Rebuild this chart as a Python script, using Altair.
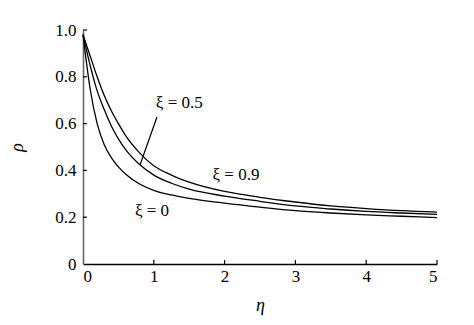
import altair as alt
import pandas as pd

eta = [0, 0.1, 0.2, 0.3, 0.4, 0.5, 0.6, 0.8, 1.0, 1.25, 1.5, 2.0, 2.5, 3.0, 3.5, 4.0, 4.5, 5.0]
rho_xi0 = [0.98, 0.75, 0.60, 0.51, 0.455, 0.415, 0.385, 0.342, 0.315, 0.295, 0.28, 0.26, 0.243, 0.228, 0.218, 0.21, 0.204, 0.198]
rho_xi05 = [0.98, 0.85, 0.74, 0.66, 0.59, 0.535, 0.49, 0.425, 0.38, 0.345, 0.32, 0.29, 0.268, 0.248, 0.235, 0.225, 0.218, 0.212]
rho_xi09 = [0.98, 0.89, 0.80, 0.72, 0.655, 0.60, 0.55, 0.475, 0.42, 0.38, 0.35, 0.31, 0.285, 0.265, 0.248, 0.237, 0.228, 0.222]

label_text = ["ξ = 0.5", "ξ = 0.9", "ξ = 0"]
label_eta = [1.36, 2.16, 0.975]
label_rho = [0.688, 0.38, 0.226]

leader_eta = [1.045, 0.805]
leader_rho = [0.628, 0.423]

x_ticks = [1, 2, 3, 4, 5]
y_ticks = [0.2, 0.4, 0.6, 0.8, 1.0]

rows = []
for name, vals in [("0", rho_xi0), ("0.5", rho_xi05), ("0.9", rho_xi09)]:
    for e, r in zip(eta, vals):
        rows.append({"eta": e, "rho": r, "xi": name})
df = pd.DataFrame(rows)

FONT = "Liberation Serif"
W, H = 354, 234

xs = alt.Scale(domain=[0, 5], nice=False)
ys = alt.Scale(domain=[0, 1.0], nice=False)

lines = alt.Chart(df).mark_line(color="black", strokeWidth=1.3, interpolate="monotone").encode(
    x=alt.X("eta:Q", scale=xs, title="η",
            axis=alt.Axis(values=[0, 1, 2, 3, 4, 5], ticks=False, grid=False, format="d",
                          domainColor="black", domainWidth=1.6,
                          labelFont=FONT, labelFontSize=17, labelColor="black", labelPadding=4,
                          titleFont=FONT, titleFontSize=18, titleFontStyle="italic",
                          titleFontWeight="normal", titleColor="black", titlePadding=12)),
    y=alt.Y("rho:Q", scale=ys, title="ρ",
            axis=alt.Axis(values=[0, 0.2, 0.4, 0.6, 0.8, 1.0], ticks=False, grid=False,
                          labelExpr="datum.value == 0 ? '0' : format(datum.value, '.1f')",
                          domainColor="#666666", domainWidth=1.6,
                          labelFont=FONT, labelFontSize=17, labelColor="black", labelPadding=7,
                          titleFont=FONT, titleFontSize=18, titleFontStyle="italic",
                          titleFontWeight="normal", titleColor="black", titlePadding=28)),
    detail="xi:N",
)

xt = alt.Chart(pd.DataFrame({"t": x_ticks})).mark_rule(color="black", strokeWidth=1.2).encode(
    x=alt.X("t:Q", scale=xs), y=alt.value(H), y2=alt.value(H - 4))
yt = alt.Chart(pd.DataFrame({"t": y_ticks})).mark_rule(color="black", strokeWidth=1.2).encode(
    y=alt.Y("t:Q", scale=ys), x=alt.value(0), x2=alt.value(4))

labels = alt.Chart(pd.DataFrame({"t": label_text, "e": label_eta, "r": label_rho})).mark_text(
    font=FONT, fontSize=17, color="black", align="center", baseline="middle").encode(
    x=alt.X("e:Q", scale=xs), y=alt.Y("r:Q", scale=ys), text="t:N")

leader = alt.Chart(pd.DataFrame({"e": leader_eta, "r": leader_rho})).mark_line(
    color="black", strokeWidth=1.2).encode(
    x=alt.X("e:Q", scale=xs), y=alt.Y("r:Q", scale=ys))

chart = alt.layer(lines, xt, yt, leader, labels).properties(
    width=W, height=H,
    autosize=alt.AutoSizeParams(type="none"),
    padding={"left": 83, "top": 30, "right": 37, "bottom": 61},
    background="white",
).configure(font=FONT).configure_view(stroke=None)

chart.save("out.html", embed_options={"renderer": "svg", "actions": False})
